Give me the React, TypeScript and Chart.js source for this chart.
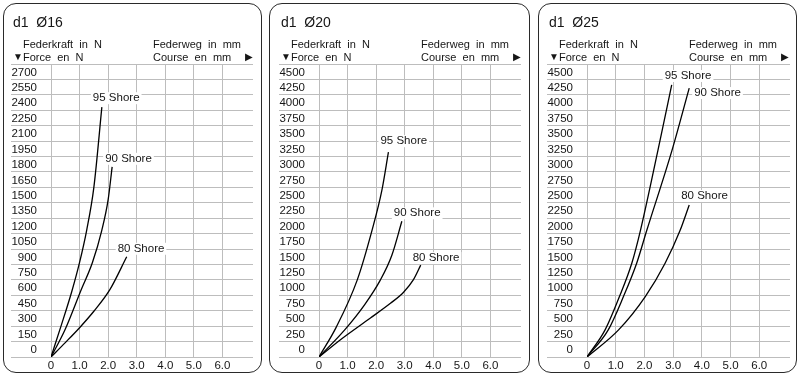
import React, { useEffect, useRef } from 'react';
import { Chart, registerables } from 'chart.js';

Chart.register(...registerables);

// ---------- data ----------
const xTicksMm = [0, 1, 2, 3, 4, 5, 6];

const d16ForceTicks = [0, 150, 300, 450, 600, 750, 900, 1050, 1200, 1350, 1500, 1650, 1800, 1950, 2100, 2250, 2400, 2550, 2700];
const d20ForceTicks = [0, 250, 500, 750, 1000, 1250, 1500, 1750, 2000, 2250, 2500, 2750, 3000, 3250, 3500, 3750, 4000, 4250, 4500];
const d25ForceTicks = [0, 250, 500, 750, 1000, 1250, 1500, 1750, 2000, 2250, 2500, 2750, 3000, 3250, 3500, 3750, 4000, 4250, 4500];

const shoreNames = ['95 Shore', '90 Shore', '80 Shore'];

// [Federweg mm, Federkraft N]
const d16Shore95 = [[0, 0], [0.35, 300], [0.73, 640], [1.0, 920], [1.25, 1235], [1.5, 1650], [1.78, 2430]];
const d16Shore90 = [[0, 0], [0.49, 265], [1.05, 650], [1.45, 920], [1.78, 1235], [2.0, 1530], [2.14, 1850]];
const d16Shore80 = [[0, 0], [0.5, 140], [1.0, 285], [1.5, 445], [2.06, 655], [2.65, 975]];

const d20Shore95 = [[0, 0], [0.6, 480], [1.34, 1250], [1.86, 2060], [2.2, 2700], [2.43, 3320]];
const d20Shore90 = [[0, 0], [0.9, 440], [1.6, 850], [2.15, 1250], [2.55, 1650], [2.9, 2200]];
const d20Shore80 = [[0, 0], [0.74, 276], [1.8, 632], [2.5, 870], [2.96, 1050], [3.3, 1250], [3.56, 1490]];

const d25Shore95 = [[0, 0], [0.63, 440], [1.13, 980], [1.56, 1520], [1.86, 2050], [2.47, 3350], [2.95, 4410]];
const d25Shore90 = [[0, 0], [0.74, 440], [1.27, 980], [1.73, 1520], [2.08, 2050], [2.96, 3350], [3.56, 4360]];
const d25Shore80 = [[0, 0], [1.1, 440], [2.03, 980], [2.72, 1520], [3.24, 2050], [3.56, 2465]];

// ---------- layout / style ----------
if (typeof document !== 'undefined') {
  document.body.style.margin = '0';
}

const FONT = '"Liberation Sans", Arial, sans-serif';
const TEXT = '#161616';
const GRID = '#bdbdbd';

type Panel = {
  title: string;
  border: [number, number];
  canvasLeft: number;
  canvasWidth: number;
  chartLeft: number;
  chartRight: number;
  yMax: number;
  yTicks: number[];
  series: number[][][];
  labelOffsets: [number, number][];
};

const panels: Panel[] = [
  {
    title: 'd1  Ø16', border: [3, 262], canvasLeft: 0, canvasWidth: 262,
    chartLeft: 51, chartRight: 253, yMax: 2850, yTicks: d16ForceTicks,
    series: [d16Shore95, d16Shore90, d16Shore80],
    labelOffsets: [[-9, -9], [-7, -8], [-9, -8]],
  },
  {
    title: 'd1  Ø20', border: [269, 530], canvasLeft: 266, canvasWidth: 266,
    chartLeft: 319, chartRight: 521, yMax: 4750, yTicks: d20ForceTicks,
    series: [d20Shore95, d20Shore90, d20Shore80],
    labelOffsets: [[-8, -11], [-8, -8], [-8, -7]],
  },
  {
    title: 'd1  Ø25', border: [538, 797], canvasLeft: 534, canvasWidth: 266,
    chartLeft: 587, chartRight: 790, yMax: 4750, yTicks: d25ForceTicks,
    series: [d25Shore95, d25Shore90, d25Shore80],
    labelOffsets: [[-7, -9], [5, 5], [-8, -9]],
  },
];

const TOP = 64;
const BOTTOM = 357;
const H = 378;

const shoreLabelPlugin = {
  id: 'shoreLabels',
  afterDatasetsDraw(chart: any, _args: any, opts: any) {
    const { ctx } = chart;
    const xs = chart.scales.x;
    const ys = chart.scales.y;
    chart.data.datasets.forEach((ds: any, i: number) => {
      const last = ds.data[ds.data.length - 1];
      const px = xs.getPixelForValue(last.x);
      const py = ys.getPixelForValue(last.y);
      const off = opts.offsets[i];
      ctx.save();
      ctx.font = `11.5px ${FONT}`;
      const text = ds.label;
      const w = ctx.measureText(text).width;
      const tx = px + off[0];
      const ty = py + off[1];
      ctx.fillStyle = '#ffffff';
      ctx.fillRect(tx - 2, ty - 6, w + 4, 12);
      ctx.fillStyle = TEXT;
      ctx.textBaseline = 'middle';
      ctx.textAlign = 'left';
      ctx.fillText(text, tx, ty);
      ctx.restore();
    });
  },
};

function PanelChart({ p }: { p: Panel }) {
  const ref = useRef<HTMLCanvasElement | null>(null);
  useEffect(() => {
    if (!ref.current) return;
    const chartLeft = p.chartLeft - p.canvasLeft;
    const padRight = p.canvasWidth - (p.chartRight - p.canvasLeft);
    const xMax = 7.07;
    const chart = new Chart(ref.current, {
      type: 'scatter',
      data: {
        datasets: p.series.map((s, i) => ({
          label: shoreNames[i],
          data: s.map(([x, y]) => ({ x, y })),
          showLine: true,
          borderColor: '#000000',
          borderWidth: 1.3,
          pointRadius: 0,
          cubicInterpolationMode: 'monotone' as const,
          fill: false,
        })),
      },
      options: {
        animation: false,
        responsive: false,
        devicePixelRatio: 1,
        layout: { padding: { top: TOP, right: padRight, left: 0, bottom: 0 } },
        plugins: {
          legend: { display: false },
          tooltip: { enabled: false },
          shoreLabels: { offsets: p.labelOffsets },
        } as any,
        scales: {
          x: {
            type: 'linear',
            min: 0,
            max: xMax,
            border: { display: false },
            grid: { color: GRID, lineWidth: 1, drawTicks: false },
            ticks: {
              autoSkip: false,
              maxRotation: 0,
              padding: 2,
              color: TEXT,
              font: { family: FONT, size: 11.5 },
              callback: (v: any) => (Number(v) === 0 ? '0' : Number(v).toFixed(1)),
            },
            afterBuildTicks: (s: any) => {
              s.ticks = xTicksMm.map((v) => ({ value: v }));
            },
            afterFit: (s: any) => {
              s.height = H - BOTTOM;
            },
          },
          y: {
            type: 'linear',
            min: 0,
            max: p.yMax,
            border: { display: false },
            grid: { color: GRID, lineWidth: 1, drawTicks: true, tickLength: 40 },
            ticks: {
              autoSkip: false,
              padding: -26,
              labelOffset: -7,
              color: TEXT,
              font: { family: FONT, size: 11.5 },
              callback: (v: any, i: number, arr: any[]) => (i === arr.length - 1 ? '' : String(v)),
            },
            afterBuildTicks: (s: any) => {
              s.ticks = [...p.yTicks, p.yMax].map((v) => ({ value: v }));
            },
            afterFit: (s: any) => {
              s.width = chartLeft;
            },
          },
        },
      } as any,
      plugins: [shoreLabelPlugin],
    });
    return () => chart.destroy();
  }, [p]);
  return (
    <canvas
      ref={ref}
      width={p.canvasWidth}
      height={H}
      style={{ position: 'absolute', left: p.canvasLeft, top: 0, width: p.canvasWidth, height: H }}
    />
  );
}

function Txt({ x, y, size, children }: { x: number; y: number; size: number; children: React.ReactNode }) {
  return (
    <div
      style={{
        position: 'absolute',
        left: x,
        top: y - 0.49 * size,
        fontFamily: FONT,
        fontSize: size,
        lineHeight: 1,
        color: TEXT,
        whiteSpace: 'pre',
      }}
    >
      {children}
    </div>
  );
}

export default function App() {
  return (
    <div style={{ position: 'relative', width: 800, height: H, background: '#fff', overflow: 'hidden' }}>
      {panels.map((p, i) => (
        <div
          key={'b' + i}
          style={{
            position: 'absolute',
            left: p.border[0],
            top: 3,
            width: p.border[1] - p.border[0],
            height: 370,
            border: '1.5px solid #2a2a2a',
            borderRadius: 13,
            boxSizing: 'border-box',
          }}
        />
      ))}
      {panels.map((p, i) => (
        <PanelChart key={'c' + i} p={p} />
      ))}
      {panels.map((p, i) => (
        <React.Fragment key={'t' + i}>
          <Txt x={p.chartLeft - 38} y={22} size={14}>{p.title}</Txt>
          <Txt x={p.chartLeft - 28} y={44} size={11}>{'Federkraft  in  N'}</Txt>
          <Txt x={p.chartLeft - 38} y={57} size={10}>{'▼'}</Txt>
          <Txt x={p.chartLeft - 28} y={57} size={11}>{'Force  en  N'}</Txt>
          <Txt x={p.chartLeft + 102} y={44} size={11}>{'Federweg  in  mm'}</Txt>
          <Txt x={p.chartLeft + 102} y={57} size={11}>{'Course  en  mm'}</Txt>
          <Txt x={p.chartLeft + 194} y={57} size={10}>{'▶'}</Txt>
        </React.Fragment>
      ))}
    </div>
  );
}
